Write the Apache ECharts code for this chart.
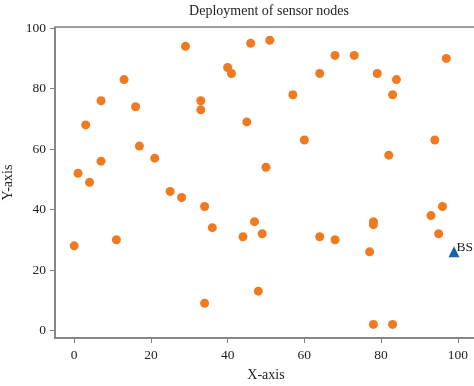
<!DOCTYPE html>
<html><head><meta charset="utf-8">
<script src="https://cdn.jsdelivr.net/npm/echarts@6/dist/echarts.min.js"></script>
<style>html,body{margin:0;padding:0;background:#fff}#c{width:474px;height:386px}</style>
</head><body><div id="c"></div>
<script>
const nodeX = [0,1,3,4,7,7,11,13,16,17,21,25,28,29,33,33,34,34,36,40,41,44,45,46,47,48,49,50,51,57,60,64,64,68,68,73,77,78,78,78,79,82,83,83,84,93,94,95,96,97];
const nodeY = [28,52,68,49,76,56,30,83,74,61,57,46,44,94,76,73,41,9,34,87,85,31,69,95,36,13,32,54,96,78,63,85,31,91,30,91,26,2,36,35,85,58,78,2,83,38,63,32,41,90];
const bsX = [99];
const bsY = [26];
const tickValues = [0,20,40,60,80,100];

const font = "'Liberation Serif', 'DejaVu Serif', serif";
const chart = echarts.init(document.getElementById('c'));
chart.setOption({
  animation:false,
  title:{text:'Deployment of sensor nodes', left:264, textAlign:'center', top:-1,
    textStyle:{fontFamily:font, fontSize:14, fontWeight:'normal', color:'#222'}},
  grid:{left:55, top:27, right:-3, bottom:48, show:true, borderColor:'#808080', borderWidth:1.5,
    containLabel:false, outerBoundsMode:'none'},
  xAxis:{type:'value', min:-5, max:105, name:'X-axis', nameLocation:'middle', nameGap:30,
    nameTextStyle:{fontFamily:font, fontSize:14, color:'#222'},
    axisLine:{show:true, onZero:false, lineStyle:{color:'#808080', width:1.5}},
    axisTick:{show:true, customValues:tickValues, length:5, lineStyle:{color:'#808080'}},
    axisLabel:{customValues:tickValues, fontFamily:font, fontSize:13.5, color:'#222', margin:10},
    splitLine:{show:false}},
  yAxis:{type:'value', min:-2.5, max:100.4, name:'Y-axis', nameLocation:'middle', nameGap:39,
    nameTextStyle:{fontFamily:font, fontSize:14, color:'#222'},
    axisLine:{show:true, onZero:false, lineStyle:{color:'#808080', width:1.5}},
    axisTick:{show:true, customValues:tickValues, length:5, lineStyle:{color:'#808080'}},
    axisLabel:{customValues:tickValues, fontFamily:font, fontSize:13.5, color:'#222', margin:9},
    splitLine:{show:false}},
  series:[
    {type:'scatter', data:nodeX.map((x,i)=>[x,nodeY[i]]), symbol:'circle', symbolSize:9,
      itemStyle:{color:'#EF7A1F', opacity:1}},
    {type:'scatter', data:bsX.map((x,i)=>[x,bsY[i]]), symbol:'triangle', symbolSize:11,
      itemStyle:{color:'#1763A8', opacity:1},
      label:{show:true, position:'right', distance:-3, offset:[0,-4], formatter:'BS', fontFamily:font, fontSize:13.5, color:'#222'}}
  ]
});
</script></body></html>
